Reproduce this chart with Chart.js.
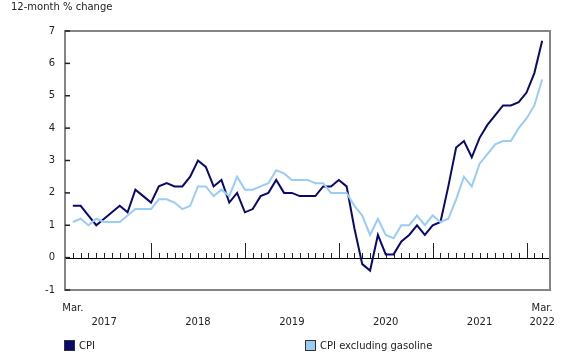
<!DOCTYPE html>
<html>
<head>
<meta charset="utf-8">
<script src="https://cdn.jsdelivr.net/npm/chart.js@4/dist/chart.umd.min.js"></script>
<style>
  html, body { margin: 0; padding: 0; background: #fff; }
  #wrap { width: 580px; height: 360px; position: relative; }
</style>
</head>
<body>
<div id="wrap"><canvas id="c" width="580" height="360"></canvas></div>
<script>
// Months: Mar. 2017 to Mar. 2022
const months = [
  "2017-03","2017-04","2017-05","2017-06","2017-07","2017-08","2017-09","2017-10","2017-11","2017-12",
  "2018-01","2018-02","2018-03","2018-04","2018-05","2018-06","2018-07","2018-08","2018-09","2018-10","2018-11","2018-12",
  "2019-01","2019-02","2019-03","2019-04","2019-05","2019-06","2019-07","2019-08","2019-09","2019-10","2019-11","2019-12",
  "2020-01","2020-02","2020-03","2020-04","2020-05","2020-06","2020-07","2020-08","2020-09","2020-10","2020-11","2020-12",
  "2021-01","2021-02","2021-03","2021-04","2021-05","2021-06","2021-07","2021-08","2021-09","2021-10","2021-11","2021-12",
  "2022-01","2022-02","2022-03"
];
const cpi = [
  1.6,1.6,1.3,1.0,1.2,1.4,1.6,1.4,2.1,1.9,
  1.7,2.2,2.3,2.2,2.2,2.5,3.0,2.8,2.2,2.4,1.7,2.0,
  1.4,1.5,1.9,2.0,2.4,2.0,2.0,1.9,1.9,1.9,2.2,2.2,
  2.4,2.2,0.9,-0.2,-0.4,0.7,0.1,0.1,0.5,0.7,1.0,0.7,
  1.0,1.1,2.2,3.4,3.6,3.1,3.7,4.1,4.4,4.7,4.7,4.8,
  5.1,5.7,6.7
];
const cpiExGas = [
  1.1,1.2,1.0,1.2,1.1,1.1,1.1,1.3,1.5,1.5,
  1.5,1.8,1.8,1.7,1.5,1.6,2.2,2.2,1.9,2.1,1.9,2.5,
  2.1,2.1,2.2,2.3,2.7,2.6,2.4,2.4,2.4,2.3,2.3,2.0,
  2.0,2.0,1.6,1.3,0.7,1.2,0.7,0.6,1.0,1.0,1.3,1.0,
  1.3,1.1,1.2,1.8,2.5,2.2,2.9,3.2,3.5,3.6,3.6,4.0,
  4.3,4.7,5.5
];
const seriesNames = ["CPI", "CPI excluding gasoline"];
const seriesColors = ["#0a0a6e", "#99ccf7"];
const yTicks = [-1, 0, 1, 2, 3, 4, 5, 6, 7];
const monthLabelAt = ["2017-03", "2022-03"];
const monthLabelText = ["Mar.", "Mar."];
const yearLabelAt = ["2017-07","2018-07","2019-07","2020-07","2021-07","2022-03"];
const yearLabelText = ["2017","2018","2019","2020","2021","2022"];
const yTitle = "12-month % change";

const FONT = "'DejaVu Sans', Verdana, sans-serif";
const TXT = "#222";

const toPoints = arr => arr.map((v, i) => ({ x: i, y: v }));

const decor = {
  id: 'decor',
  beforeDatasetsDraw(chart) {
    const {ctx, chartArea: a, scales: {x, y}} = chart;
    const y0 = Math.round(y.getPixelForValue(0));
    ctx.save();
    ctx.strokeStyle = '#000';
    ctx.lineWidth = 1;
    ctx.beginPath();
    ctx.moveTo(a.left, y0 + 0.5);
    ctx.lineTo(a.right, y0 + 0.5);
    ctx.stroke();
    ctx.strokeStyle = '#222';
    months.forEach((m, i) => {
      const px = Math.round(x.getPixelForValue(i)) + 0.5;
      const len = m.endsWith('-01') ? 15 : 5;
      ctx.beginPath();
      ctx.moveTo(px, y0);
      ctx.lineTo(px, y0 - len);
      ctx.stroke();
    });
    ctx.restore();
  },
  afterDraw(chart) {
    const {ctx, chartArea: a, scales: {y}} = chart;
    ctx.save();
    ctx.strokeStyle = '#858585';
    ctx.lineWidth = 2;
    ctx.strokeRect(a.left, a.top, a.right - a.left, a.bottom - a.top);
    ctx.strokeStyle = '#222';
    ctx.lineWidth = 1.5;
    yTicks.forEach(v => {
      const py = y.getPixelForValue(v);
      ctx.beginPath();
      ctx.moveTo(a.left, py);
      ctx.lineTo(a.left + 5, py);
      ctx.stroke();
    });
    ctx.fillStyle = TXT;
    ctx.font = "10px " + FONT;
    ctx.textAlign = 'left';
    ctx.textBaseline = 'middle';
    ctx.fillText(yTitle, 11, 7);
    const legendX = [64.5, 305.5];
    seriesNames.forEach((n, i) => {
      ctx.fillStyle = seriesColors[i];
      ctx.fillRect(legendX[i], 340.5, 10, 10);
      ctx.strokeStyle = '#333';
      ctx.lineWidth = 1;
      ctx.strokeRect(legendX[i], 340.5, 10, 10);
      ctx.fillStyle = TXT;
      ctx.fillText(n, legendX[i] + 14.5, 346);
    });
    ctx.restore();
  }
};

new Chart(document.getElementById('c'), {
  type: 'line',
  data: {
    datasets: [
      { label: seriesNames[1], data: toPoints(cpiExGas), borderColor: seriesColors[1], borderWidth: 2, pointRadius: 0, tension: 0, fill: false },
      { label: seriesNames[0], data: toPoints(cpi), borderColor: seriesColors[0], borderWidth: 2, pointRadius: 0, tension: 0, fill: false }
    ]
  },
  options: {
    responsive: false,
    animation: false,
    events: [],
    parsing: true,
    layout: { padding: { top: 31, right: 30, left: 0, bottom: 0 } },
    plugins: { legend: { display: false }, tooltip: { enabled: false } },
    scales: {
      x: {
        type: 'linear',
        min: -1, max: months.length,
        grid: { display: false, drawTicks: false },
        border: { display: false },
        afterFit(s) { s.height = 70; },
        afterBuildTicks(s) { s.ticks = months.map((m, i) => ({ value: i })); },
        ticks: {
          autoSkip: false, maxRotation: 0, minRotation: 0, padding: 11,
          color: TXT, font: { family: FONT, size: 10, lineHeight: 1.4 },
          callback(v) {
            const m = months[v];
            if (m === undefined) return '';
            const mi = monthLabelAt.indexOf(m);
            const yi = yearLabelAt.indexOf(m);
            if (mi < 0 && yi < 0) return '';
            return [mi >= 0 ? monthLabelText[mi] : '', yi >= 0 ? yearLabelText[yi] : ''];
          }
        }
      },
      y: {
        min: -1, max: 7,
        afterFit(s) { s.width = 65; },
        afterBuildTicks(s) { s.ticks = yTicks.map(v => ({ value: v })); },
        grid: { display: false, drawTicks: false },
        border: { display: false },
        ticks: { padding: 10, color: TXT, font: { family: FONT, size: 10 } }
      }
    }
  },
  plugins: [decor]
});
</script>
</body>
</html>
